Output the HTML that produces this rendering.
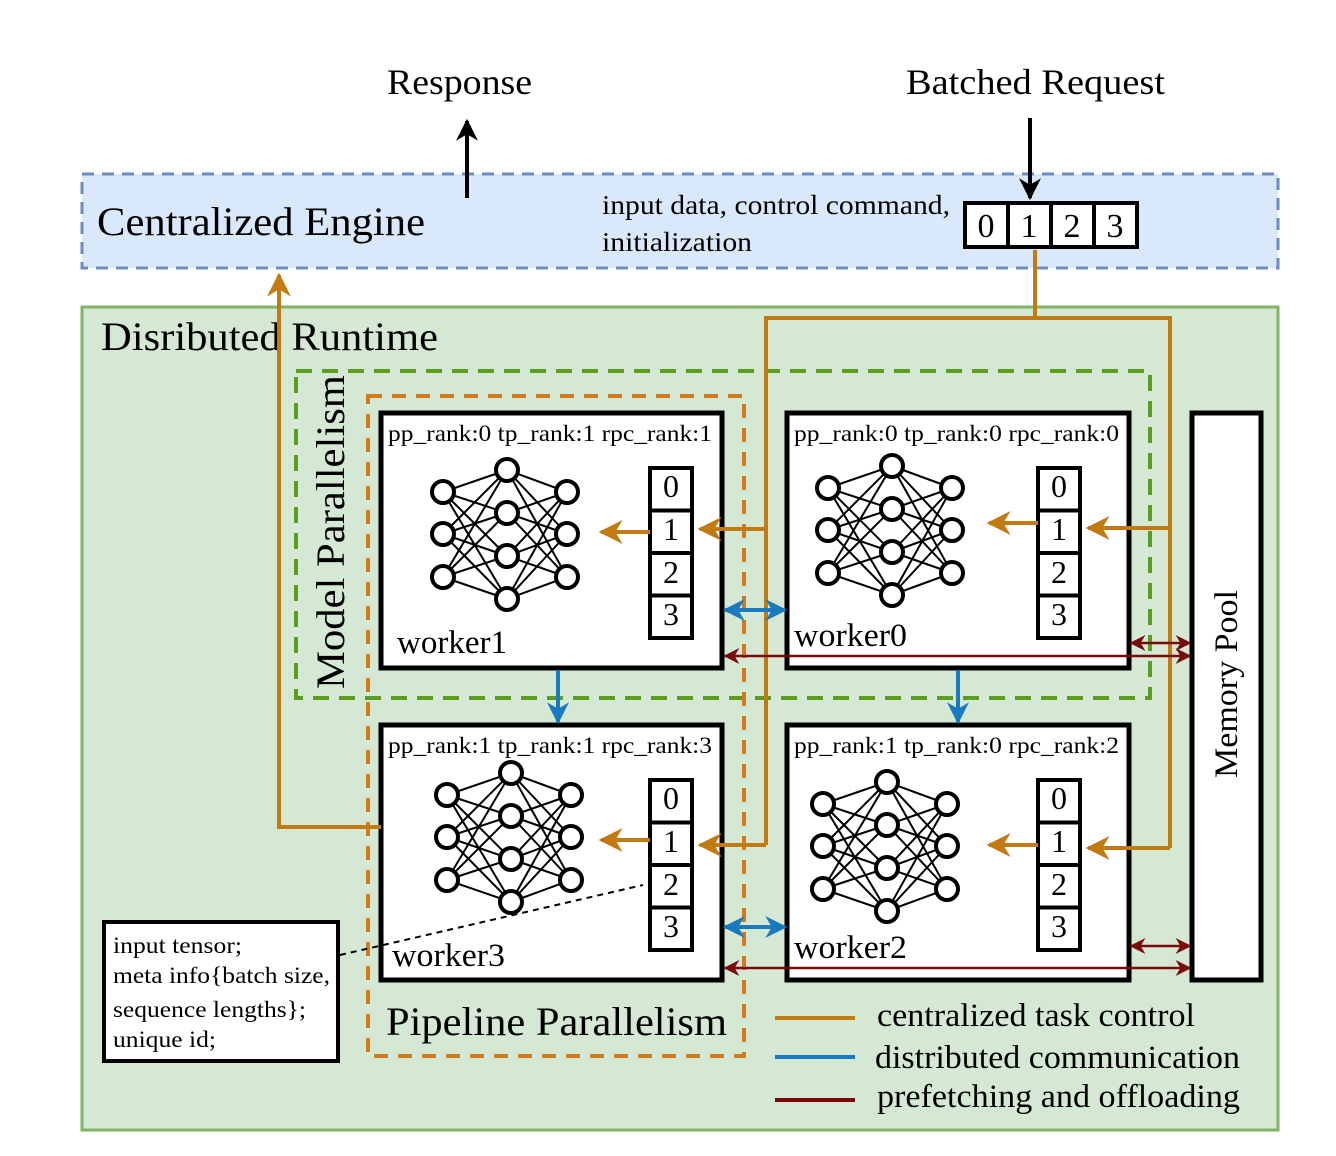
<!DOCTYPE html>
<html><head><meta charset="utf-8"><style>html,body{margin:0;padding:0;background:#fff}svg{display:block}text{font-family:"Liberation Serif",serif;fill:#000}</style></head><body>
<svg width="1336" height="1156" viewBox="0 0 1336 1156" xmlns="http://www.w3.org/2000/svg">
<defs>
<marker id="ao2" viewBox="0 0 10 10" refX="9" refY="5" markerWidth="24" markerHeight="24" markerUnits="userSpaceOnUse" orient="auto-start-reverse"><path d="M0,0 L10,5 L0,10 L3,5z" fill="#c27a12"/></marker>
<marker id="ab" viewBox="0 0 10 10" refX="9" refY="5" markerWidth="22" markerHeight="22" markerUnits="userSpaceOnUse" orient="auto-start-reverse"><path d="M0,0 L10,5 L0,10 L3,5z" fill="#1a7abf"/></marker>
<marker id="ar" viewBox="0 0 10 10" refX="9" refY="5" markerWidth="16" markerHeight="16" markerUnits="userSpaceOnUse" orient="auto-start-reverse"><path d="M0,0 L10,5 L0,10 L3,5z" fill="#7a0a0a"/></marker>
<marker id="ak" viewBox="0 0 10 10" refX="9" refY="5" markerWidth="22" markerHeight="22" markerUnits="userSpaceOnUse" orient="auto-start-reverse"><path d="M0,0 L10,5 L0,10 L3,5z" fill="#000"/></marker>
<g id="net" stroke="#000" fill="none">
<g stroke-width="2">
<path d="M0,22L64,0M0,22L64,43M0,22L64,86M0,22L64,129M0,64L64,0M0,64L64,43M0,64L64,86M0,64L64,129M0,107L64,0M0,107L64,43M0,107L64,86M0,107L64,129"/>
<path d="M124,22L64,0M124,22L64,43M124,22L64,86M124,22L64,129M124,64L64,0M124,64L64,43M124,64L64,86M124,64L64,129M124,107L64,0M124,107L64,43M124,107L64,86M124,107L64,129"/>
</g>
<g stroke-width="4" fill="#fff">
<circle cx="0" cy="22" r="11"/><circle cx="0" cy="64" r="11"/><circle cx="0" cy="107" r="11"/>
<circle cx="64" cy="0" r="11"/><circle cx="64" cy="43" r="11"/><circle cx="64" cy="86" r="11"/><circle cx="64" cy="129" r="11"/>
<circle cx="124" cy="22" r="11"/><circle cx="124" cy="64" r="11"/><circle cx="124" cy="107" r="11"/>
</g></g>
<g id="q" stroke="#000" stroke-width="4" fill="#fff">
<rect x="0" y="0" width="42" height="170"/><path d="M0,42.5H42M0,85H42M0,127.5H42"/>
</g>
</defs>
<rect width="1336" height="1156" fill="#fff"/>
<rect x="82" y="174" width="1196" height="94" fill="#dae8fc" stroke="#6c8ebf" stroke-width="3" stroke-dasharray="12,8"/>
<text x="97" y="235" font-size="40" textLength="328" lengthAdjust="spacingAndGlyphs">Centralized Engine</text>
<text x="602" y="214" font-size="27" textLength="348" lengthAdjust="spacingAndGlyphs">input data, control command,</text>
<text x="602" y="251" font-size="27" textLength="150" lengthAdjust="spacingAndGlyphs">initialization</text>
<g stroke="#000" stroke-width="4" fill="#fff"><rect x="965" y="203" width="172" height="44"/><path d="M1008,203V247M1051,203V247M1094,203V247"/></g>
<g font-size="34" text-anchor="middle"><text x="986" y="237">0</text><text x="1029" y="237">1</text><text x="1072" y="237">2</text><text x="1115" y="237">3</text></g>
<text x="387" y="94" font-size="36" textLength="145" lengthAdjust="spacingAndGlyphs">Response</text>
<text x="906" y="94" font-size="36" textLength="259" lengthAdjust="spacingAndGlyphs">Batched Request</text>
<line x1="467" y1="198" x2="467" y2="121" stroke="#000" stroke-width="4" marker-end="url(#ak)"/>
<line x1="1030" y1="118" x2="1030" y2="198" stroke="#000" stroke-width="4" marker-end="url(#ak)"/>
<rect x="82" y="307" width="1196" height="823" fill="#d5e8d4" stroke="#82b366" stroke-width="3"/>
<text x="101" y="350" font-size="40" textLength="337" lengthAdjust="spacingAndGlyphs">Disributed Runtime</text>
<rect x="296" y="371" width="854" height="327" fill="none" stroke="#5b9e1f" stroke-width="4" stroke-dasharray="16,10"/>
<text transform="translate(344,689) rotate(-90)" font-size="40" textLength="314" lengthAdjust="spacingAndGlyphs">Model Parallelism</text>
<rect x="368" y="396" width="376" height="660" fill="none" stroke="#d27a1e" stroke-width="4" stroke-dasharray="14,10"/>
<text x="386" y="1035" font-size="40" textLength="341" lengthAdjust="spacingAndGlyphs">Pipeline Parallelism</text>
<g stroke="#000" stroke-width="5" fill="#fff">
<rect x="381" y="413" width="341" height="255"/><rect x="787" y="413" width="342" height="255"/>
<rect x="381" y="725" width="341" height="255"/><rect x="787" y="725" width="342" height="255"/>
<rect x="1192" y="413" width="69" height="567"/>
</g>
<text transform="translate(1237,778) rotate(-90)" font-size="33" textLength="188" lengthAdjust="spacingAndGlyphs">Memory Pool</text>
<g font-size="23">
<text x="388" y="441" textLength="324" lengthAdjust="spacingAndGlyphs">pp_rank:0 tp_rank:1 rpc_rank:1</text>
<text x="794" y="441" textLength="325" lengthAdjust="spacingAndGlyphs">pp_rank:0 tp_rank:0 rpc_rank:0</text>
<text x="388" y="753" textLength="324" lengthAdjust="spacingAndGlyphs">pp_rank:1 tp_rank:1 rpc_rank:3</text>
<text x="794" y="753" textLength="325" lengthAdjust="spacingAndGlyphs">pp_rank:1 tp_rank:0 rpc_rank:2</text>
</g>
<g font-size="33"><text x="397" y="653" textLength="110" lengthAdjust="spacingAndGlyphs">worker1</text><text x="794" y="646" textLength="113" lengthAdjust="spacingAndGlyphs">worker0</text><text x="392" y="966" textLength="113" lengthAdjust="spacingAndGlyphs">worker3</text><text x="794" y="958" textLength="113" lengthAdjust="spacingAndGlyphs">worker2</text></g>
<use href="#net" x="443" y="470"/><use href="#net" x="828" y="466"/><use href="#net" x="447" y="773"/><use href="#net" x="823" y="782"/>
<use href="#q" x="650" y="468"/><use href="#q" x="1038" y="468"/><use href="#q" x="650" y="780"/><use href="#q" x="1038" y="780"/>
<g font-size="32" text-anchor="middle">
<text x="671" y="497">0</text><text x="671" y="540">1</text><text x="671" y="583">2</text><text x="671" y="625">3</text>
<text x="1059" y="497">0</text><text x="1059" y="540">1</text><text x="1059" y="583">2</text><text x="1059" y="625">3</text>
<text x="671" y="809">0</text><text x="671" y="852">1</text><text x="671" y="895">2</text><text x="671" y="937">3</text>
<text x="1059" y="809">0</text><text x="1059" y="852">1</text><text x="1059" y="895">2</text><text x="1059" y="937">3</text>
</g>
<g stroke="#c27a12" stroke-width="4" fill="none">
<path d="M1035,250V318H766V845"/><path d="M766,318H1170V848"/>
<line x1="766" y1="529" x2="700" y2="529" marker-end="url(#ao2)"/>
<line x1="1170" y1="528" x2="1088" y2="528" marker-end="url(#ao2)"/>
<line x1="766" y1="845" x2="700" y2="845" marker-end="url(#ao2)"/>
<line x1="1170" y1="848" x2="1088" y2="848" marker-end="url(#ao2)"/>
<line x1="650" y1="532" x2="601" y2="532" marker-end="url(#ao2)"/>
<line x1="1038" y1="523" x2="989" y2="523" marker-end="url(#ao2)"/>
<line x1="650" y1="840" x2="601" y2="840" marker-end="url(#ao2)"/>
<line x1="1038" y1="845" x2="989" y2="845" marker-end="url(#ao2)"/>
<path d="M381,827H279V275" marker-end="url(#ao2)"/>
</g>
<g stroke="#1a7abf" stroke-width="4">
<line x1="558" y1="670" x2="558" y2="722" marker-end="url(#ab)"/>
<line x1="958" y1="670" x2="958" y2="722" marker-end="url(#ab)"/>
<line x1="725" y1="610" x2="785" y2="610" marker-start="url(#ab)" marker-end="url(#ab)"/>
<line x1="725" y1="927" x2="785" y2="927" marker-start="url(#ab)" marker-end="url(#ab)"/>
</g>
<g stroke="#7a0a0a" stroke-width="2.5">
<line x1="725" y1="656" x2="1190" y2="656" marker-start="url(#ar)" marker-end="url(#ar)"/>
<line x1="1131" y1="643" x2="1190" y2="643" marker-start="url(#ar)" marker-end="url(#ar)"/>
<line x1="725" y1="968" x2="1190" y2="968" marker-start="url(#ar)" marker-end="url(#ar)"/>
<line x1="1131" y1="946" x2="1190" y2="946" marker-start="url(#ar)" marker-end="url(#ar)"/>
</g>
<line x1="340" y1="955" x2="643" y2="885" stroke="#000" stroke-width="2" stroke-dasharray="6,5"/>
<rect x="104" y="922" width="234" height="139" fill="#fff" stroke="#000" stroke-width="4"/>
<g font-size="23"><text x="113" y="953" textLength="129" lengthAdjust="spacingAndGlyphs">input tensor;</text><text x="113" y="983" textLength="217" lengthAdjust="spacingAndGlyphs">meta info{batch size,</text><text x="113" y="1017" textLength="193" lengthAdjust="spacingAndGlyphs">sequence lengths};</text><text x="113" y="1047" textLength="103" lengthAdjust="spacingAndGlyphs">unique id;</text></g>
<line x1="775" y1="1018" x2="855" y2="1018" stroke="#c27a12" stroke-width="4"/>
<line x1="775" y1="1057" x2="855" y2="1057" stroke="#1a7abf" stroke-width="4"/>
<line x1="775" y1="1100" x2="855" y2="1100" stroke="#7a0a0a" stroke-width="4"/>
<g font-size="33"><text x="877" y="1026" textLength="318" lengthAdjust="spacingAndGlyphs">centralized task control</text><text x="875" y="1068" textLength="365" lengthAdjust="spacingAndGlyphs">distributed communication</text><text x="877" y="1107" textLength="363" lengthAdjust="spacingAndGlyphs">prefetching and offloading</text></g>
</svg>
</body></html>
